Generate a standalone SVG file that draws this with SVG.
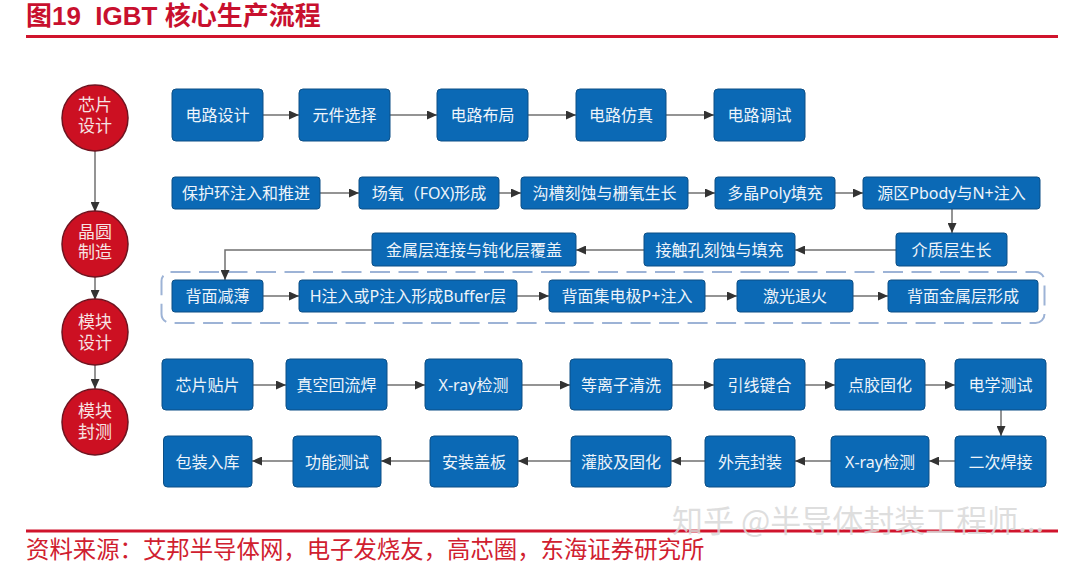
<svg xmlns="http://www.w3.org/2000/svg" width="1080" height="567" viewBox="0 0 1080 567">
<style>
text{font-family:"Liberation Sans","Noto Sans CJK SC",sans-serif}
.n rect{fill:#0b69b5;stroke:#0d4f85;stroke-width:1}
.n text{fill:#eef4fa;font-size:16px;text-anchor:middle;dominant-baseline:central;font-family:"Noto Sans","Noto Sans CJK SC",sans-serif}
.c circle{fill:#cc1022;stroke:#6f1420;stroke-width:1.500}
.c text{fill:#f6e3e3;font-size:17px;text-anchor:middle}
#connectors path{fill:none;stroke:#707070;stroke-width:1.500;marker-end:url(#a)}
</style>
<defs><marker id="a" markerUnits="userSpaceOnUse" markerWidth="11" markerHeight="9" refX="10" refY="4.500" orient="auto"><path d="M0 0L10 4.500L0 9Z" fill="#333"/></marker></defs>
<rect width="1080" height="567" fill="#fff"/>
<text x="26" y="25" font-size="26" font-weight="700" fill="#c8102e" xml:space="preserve">图19  IGBT 核心生产流程</text>
<rect x="26" y="35" width="1032" height="3" fill="#d0142c"/>
<rect x="26" y="529.500" width="1032" height="3" fill="#d0142c"/>
<text x="26" y="558" font-size="23.400" fill="#d0202f">资料来源：艾邦半导体网，电子发烧友，高芯圈，东海证券研究所</text>
<rect x="161.500" y="272" width="883" height="51" rx="9" fill="none" stroke="#9db3d6" stroke-width="2" stroke-dasharray="20 8.500"/>
<g id="connectors">
<path d="M95 149V212"/><path d="M95 276V300"/><path d="M95 365V389"/>
<path d="M263 115H299"/><path d="M390 115H437"/><path d="M528 115H576"/><path d="M666 115H714"/>
<path d="M320 193H359"/><path d="M499 193H521"/><path d="M688 193H715"/><path d="M835 193H863"/>
<path d="M952 209V233"/><path d="M896 250H795"/><path d="M644 250H576"/><path d="M372 250H225V280"/>
<path d="M263 296H299"/><path d="M517 296H549"/><path d="M705 296H737"/><path d="M853 296H888"/>
<path d="M253 385H286"/><path d="M387 385H425"/><path d="M522 385H570"/><path d="M672 385H714"/><path d="M805 385H835"/><path d="M925 385H955"/>
<path d="M1001 410V436"/>
<path d="M955 461H929"/><path d="M831 461H795"/><path d="M705 461H671"/><path d="M571 461H518"/><path d="M430 461H381"/><path d="M293 461H252"/>
</g>
<g id="c1" class="c"><circle cx="95" cy="118" r="33"/><text y="111"><tspan x="95">芯片</tspan><tspan x="95" dy="21">设计</tspan></text></g>
<g id="c2" class="c"><circle cx="95" cy="244" r="33"/><text y="238"><tspan x="95">晶圆</tspan><tspan x="95" dy="20">制造</tspan></text></g>
<g id="c3" class="c"><circle cx="95" cy="332" r="33"/><text y="328"><tspan x="95">模块</tspan><tspan x="95" dy="21">设计</tspan></text></g>
<g id="c4" class="c"><circle cx="95" cy="422" r="33"/><text y="417"><tspan x="95">模块</tspan><tspan x="95" dy="21">封测</tspan></text></g>
<g id="r1a" class="n"><rect x="172" y="89" width="91" height="52" rx="4"/><text x="217.500" y="115">电路设计</text></g>
<g id="r1b" class="n"><rect x="299" y="89" width="91" height="52" rx="4"/><text x="344.500" y="115">元件选择</text></g>
<g id="r1c" class="n"><rect x="437" y="89" width="91" height="52" rx="4"/><text x="482.500" y="115">电路布局</text></g>
<g id="r1d" class="n"><rect x="576" y="89" width="90" height="52" rx="4"/><text x="621" y="115">电路仿真</text></g>
<g id="r1e" class="n"><rect x="714" y="89" width="91" height="52" rx="4"/><text x="759.500" y="115">电路调试</text></g>
<g id="r2a" class="n"><rect x="172" y="177" width="148" height="32" rx="3"/><text x="246" y="193">保护环注入和推进</text></g>
<g id="r2b" class="n"><rect x="359" y="177" width="140" height="32" rx="3"/><text x="429" y="193">场氧（FOX)形成</text></g>
<g id="r2c" class="n"><rect x="521" y="177" width="167" height="32" rx="3"/><text x="604.500" y="193">沟槽刻蚀与栅氧生长</text></g>
<g id="r2d" class="n"><rect x="715" y="177" width="120" height="32" rx="3"/><text x="775" y="193">多晶Poly填充</text></g>
<g id="r2e" class="n"><rect x="863" y="177" width="177" height="32" rx="3"/><text x="951.500" y="193">源区Pbody与N+注入</text></g>
<g id="r3a" class="n"><rect x="372" y="233" width="204" height="33" rx="3"/><text x="474" y="250">金属层连接与钝化层覆盖</text></g>
<g id="r3b" class="n"><rect x="644" y="233" width="151" height="33" rx="3"/><text x="719.500" y="250">接触孔刻蚀与填充</text></g>
<g id="r3c" class="n"><rect x="896" y="233" width="111" height="33" rx="3"/><text x="951.500" y="250">介质层生长</text></g>
<g id="r4a" class="n"><rect x="172" y="280" width="91" height="32" rx="3"/><text x="217.500" y="296">背面减薄</text></g>
<g id="r4b" class="n"><rect x="299" y="280" width="218" height="32" rx="3"/><text x="408" y="296">H注入或P注入形成Buffer层</text></g>
<g id="r4c" class="n"><rect x="549" y="280" width="156" height="32" rx="3"/><text x="627" y="296">背面集电极P+注入</text></g>
<g id="r4d" class="n"><rect x="737" y="280" width="116" height="32" rx="3"/><text x="795" y="296">激光退火</text></g>
<g id="r4e" class="n"><rect x="888" y="280" width="150" height="32" rx="3"/><text x="963" y="296">背面金属层形成</text></g>
<g id="r5a" class="n"><rect x="162" y="359" width="91" height="51" rx="4"/><text x="207.500" y="385">芯片贴片</text></g>
<g id="r5b" class="n"><rect x="286" y="359" width="101" height="51" rx="4"/><text x="336.500" y="385">真空回流焊</text></g>
<g id="r5c" class="n"><rect x="425" y="359" width="97" height="51" rx="4"/><text x="473.500" y="385">X-ray检测</text></g>
<g id="r5d" class="n"><rect x="570" y="359" width="102" height="51" rx="4"/><text x="621" y="385">等离子清洗</text></g>
<g id="r5e" class="n"><rect x="714" y="359" width="91" height="51" rx="4"/><text x="759.500" y="385">引线键合</text></g>
<g id="r5f" class="n"><rect x="835" y="359" width="90" height="51" rx="4"/><text x="880" y="385">点胶固化</text></g>
<g id="r5g" class="n"><rect x="955" y="359" width="91" height="51" rx="4"/><text x="1000.500" y="385">电学测试</text></g>
<g id="r6a" class="n"><rect x="163.500" y="436" width="88.500" height="51" rx="4"/><text x="207.500" y="462">包装入库</text></g>
<g id="r6b" class="n"><rect x="293" y="436" width="88" height="51" rx="4"/><text x="337" y="462">功能测试</text></g>
<g id="r6c" class="n"><rect x="430" y="436" width="88" height="51" rx="4"/><text x="474" y="462">安装盖板</text></g>
<g id="r6d" class="n"><rect x="571" y="436" width="100" height="51" rx="4"/><text x="621" y="462">灌胶及固化</text></g>
<g id="r6e" class="n"><rect x="705" y="436" width="90" height="51" rx="4"/><text x="750" y="462">外壳封装</text></g>
<g id="r6f" class="n"><rect x="831" y="436" width="98" height="51" rx="4"/><text x="880" y="462">X-ray检测</text></g>
<g id="r6g" class="n"><rect x="955" y="436" width="91" height="51" rx="4"/><text x="1000.500" y="462">二次焊接</text></g>
<text x="672" y="532" font-size="31" fill="#d9d9d9" fill-opacity=".85" style="font-family:'Noto Sans CJK SC',sans-serif">知乎 @半导体封装工程师...</text>
</svg>
